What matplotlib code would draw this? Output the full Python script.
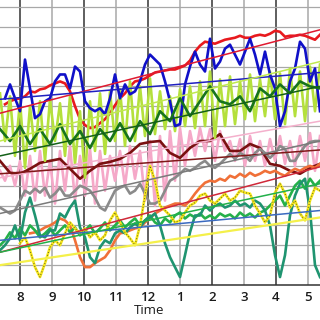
import numpy as np
import matplotlib
matplotlib.use("Agg")
import matplotlib.pyplot as plt

# hour ticks shown along the bottom (8 am .. 5 pm)
hours = [8, 9, 10, 11, 12, 13, 14, 15, 16, 17]
hour_labels = ['8', '9', '10', '11', '12', '1', '2', '3', '4', '5']

# visible window (the chart is cut on both sides)
t_left, t_right = 7.375, 17.375

# series values (arbitrary units, grid step = 20)
red = [182, 185, 187, 188, 190, 195, 194, 197, 198, 201, 203, 205, 203, 195, 180, 167,
       161, 158, 159, 163, 167, 173, 181, 188, 193, 200, 205, 206, 208, 211, 214, 215,
       216, 217, 217, 219, 221, 226, 235, 241, 245, 244, 243, 245, 247, 248, 249, 251,
       249, 249, 251, 252, 251, 253, 256, 255, 250, 251, 251, 252, 251, 249, 247, 252]
blue = [188, 202, 188, 175, 227, 198, 168, 172, 185, 188, 205, 212, 212, 198, 220, 215,
        185, 178, 175, 178, 172, 188, 212, 188, 202, 192, 195, 205, 222, 232, 227, 222,
        205, 185, 160, 162, 202, 220, 235, 222, 215, 248, 218, 225, 238, 242, 232, 222,
        235, 248, 232, 212, 235, 212, 198, 160, 175, 205, 218, 245, 238, 205, 218, 175]
yellowgreen = [193, 145, 190, 130, 185, 118, 180, 135, 185, 125, 187, 145, 183, 130, 190, 122,
               175, 108, 185, 135, 193, 132, 195, 145, 197, 140, 205, 145, 200, 150, 208, 152,
               195, 157, 190, 155, 197, 160, 200, 158, 205, 160, 215, 148, 207, 160, 210, 162,
               205, 167, 212, 165, 207, 170, 215, 167, 213, 162, 218, 170, 215, 165, 220, 175, 222]
darkgreen = [157, 145, 160, 142, 157, 142, 162, 142, 155, 138, 157, 145, 163, 145, 165, 152,
             175, 165, 188, 170, 185, 200, 185, 182, 190, 175, 198, 190, 202, 193, 205, 200, 198]
pink = [115, 105, 120, 100, 125, 90, 130, 85, 135, 90, 125, 82, 135, 95, 140, 85,
        130, 90, 137, 82, 135, 95, 130, 105, 135, 100, 140, 107, 135, 85, 145, 80,
        150, 85, 155, 105, 158, 120, 155, 130, 158, 135, 157, 125, 155, 135, 145, 125,
        147, 120, 150, 125, 145, 120, 147, 125, 150, 122, 145, 120, 150, 125, 153, 115, 150]
maroon = [125, 113, 112, 117, 123, 125, 127, 117, 107, 115, 122, 124, 127, 133, 142, 144,
          145, 133, 128, 138, 145, 145, 152, 135, 135, 142, 138, 122, 120, 115, 112, 118, 122]
gray = [78, 75, 72, 75, 85, 95, 92, 97, 93, 98, 88, 92, 98, 90, 90, 95,
        100, 98, 95, 88, 78, 75, 85, 95, 98, 100, 92, 95, 102, 92, 82, 82,
        85, 95, 105, 108, 112, 117, 115, 118, 122, 125, 120, 118, 122, 127, 132, 127,
        133, 130, 125, 133, 137, 133, 128, 133, 140, 137, 125, 125, 133, 140, 144, 145, 145]
orange = [52, 53, 55, 58, 60, 63, 67, 65, 60, 45, 28, 18, 18, 22, 25, 28,
          35, 45, 52, 53, 55, 57, 58, 63, 67, 72, 75, 78, 80, 82, 82, 80,
          85, 92, 98, 103, 105, 104, 107, 105, 110, 108, 112, 109, 113, 110, 112, 115,
          113, 115, 112, 110, 114, 117, 115, 118, 120, 118, 122]
teal = [35, 40, 47, 60, 45, 73, 88, 70, 50, 48, 55, 55, 72, 68, 78, 85,
        58, 48, 28, 22, 38, 45, 42, 52, 55, 52, 58, 62, 58, 65, 68, 72,
        60, 42, 28, 18, 8, 30, 53, 70, 70, 80, 75, 80, 82, 78, 80, 85,
        80, 82, 78, 85, 82, 75, 60, 30, 8, 30, 70, 90, 102, 107, 75, 20, 8]
green = [40, 45, 53, 47, 57, 50, 60, 55, 48, 52, 57, 50, 55, 60, 53, 58,
         50, 55, 60, 52, 57, 63, 55, 60, 65, 58, 63, 67, 60, 65, 70, 63,
         60, 67, 63, 70, 73, 67, 71, 68, 72, 67, 70, 67, 72, 69, 71, 67,
         73, 69, 72, 68, 73, 75, 80, 85, 90, 80, 90, 100, 105, 97, 107, 100, 105]
yellow = [42, 48, 35, 18, 8, 22, 38, 45, 40, 52, 63, 57, 52, 57, 48, 53,
          45, 50, 65, 73, 63, 53, 47, 40, 60, 90, 120, 105, 80, 75, 70, 63,
          65, 73, 80, 83, 90, 92, 85, 82, 87, 92, 85, 88, 95, 93, 92, 80,
          72, 63, 70, 93, 102, 92, 78, 85, 72, 65, 85, 98, 95]

# start / end hour of each series
spans = {
    'red': (7.53125, 17.375), 'blue': (7.53125, 17.375),
    'yellowgreen': (7.375, 17.375), 'darkgreen': (7.375, 17.375),
    'pink': (7.375, 17.375), 'maroon': (7.375, 17.375),
    'gray': (7.375, 17.375), 'orange': (8.3125, 17.375),
    'teal': (7.375, 17.375), 'green': (7.375, 17.375),
    'yellow': (8.0, 17.375),
}

# straight trend lines: value at left edge, value at right edge
trend_names = ['red', 'blue', 'yellowgreen', 'darkgreen', 'pink', 'maroon',
               'gray', 'orange', 'teal', 'green', 'yellow']
trend_start = [173, 187, 145, 130, 108, 112, 72, 33, 45, 33, 20]
trend_end = [257, 214, 225, 200, 165, 136, 145, 119, 75, 102, 68]

series = {'red': red, 'blue': blue, 'yellowgreen': yellowgreen, 'darkgreen': darkgreen,
          'pink': pink, 'maroon': maroon, 'gray': gray, 'orange': orange,
          'teal': teal, 'green': green, 'yellow': yellow}

colors = {'red': '#e8191e', 'blue': '#1010c8', 'yellowgreen': '#b4e03c',
          'darkgreen': '#17741c', 'pink': '#f5a8c8', 'maroon': '#7a1010',
          'gray': '#8a8a8a', 'orange': '#f07038', 'teal': '#1f9470',
          'green': '#25b04a', 'yellow': '#f8e81c'}
trend_colors = {'red': '#e01a30', 'blue': '#2020c0', 'yellowgreen': '#c0e850',
                'darkgreen': '#136018', 'pink': '#f4b0cc', 'maroon': '#801818',
                'gray': '#7a7a7a', 'orange': '#d02838', 'teal': '#3a6ac0',
                'green': '#22b04a', 'yellow': '#f4f04a'}

draw_order = ['pink', 'maroon', 'gray', 'orange', 'red', 'yellowgreen', 'blue',
              'darkgreen', 'green', 'teal', 'yellow']

fig = plt.figure(figsize=(3.2, 3.2), dpi=100)
ax = fig.add_axes([0, 35 / 320, 1, 285 / 320])

# grid: dark lines on even hours, light on odd hours
for h in hours:
    dark = h % 2 == 0
    ax.axvline(h, color='#333333' if dark else '#a8a8a8', lw=1.1, zorder=0)
for y in range(20, 300, 20):
    ax.axhline(y, color='#a8a8a8', lw=0.9, zorder=0)

for name in draw_order:
    vals = series[name]
    t = np.linspace(*spans[name], len(vals))
    ax.plot(t, vals, color=colors[name], lw=1.9, solid_joinstyle='round', zorder=2)
    if name == 'yellow':
        ax.plot(t, vals, color='#5a5a20', lw=0.7, ls=(0, (1, 2)), zorder=2)

for name, y0, y1 in zip(trend_names, trend_start, trend_end):
    lw = 1.6 if name == 'yellow' else 1.1
    ax.plot([t_left, t_right], [y0, y1], color=trend_colors[name], lw=lw, zorder=3)

ax.set_xlim(t_left, t_right)
ax.set_ylim(0, 287)
ax.set_xticks(hours)
ax.set_xticklabels(hour_labels, fontsize=9.5, family='Open Sans', fontweight='semibold',
                   color='#1a1a1a')
ax.set_yticks([])
ax.tick_params(axis='x', length=0, pad=4)
for side in ['top', 'left', 'right']:
    ax.spines[side].set_visible(False)
ax.spines['bottom'].set_color('#333333')
ax.spines['bottom'].set_linewidth(1.1)
ax.set_xlabel('Time', fontsize=9.5, family='Open Sans', color='#1a1a1a',
              x=149.5 / 320, labelpad=0)

fig.savefig('out.png', dpi=100)
